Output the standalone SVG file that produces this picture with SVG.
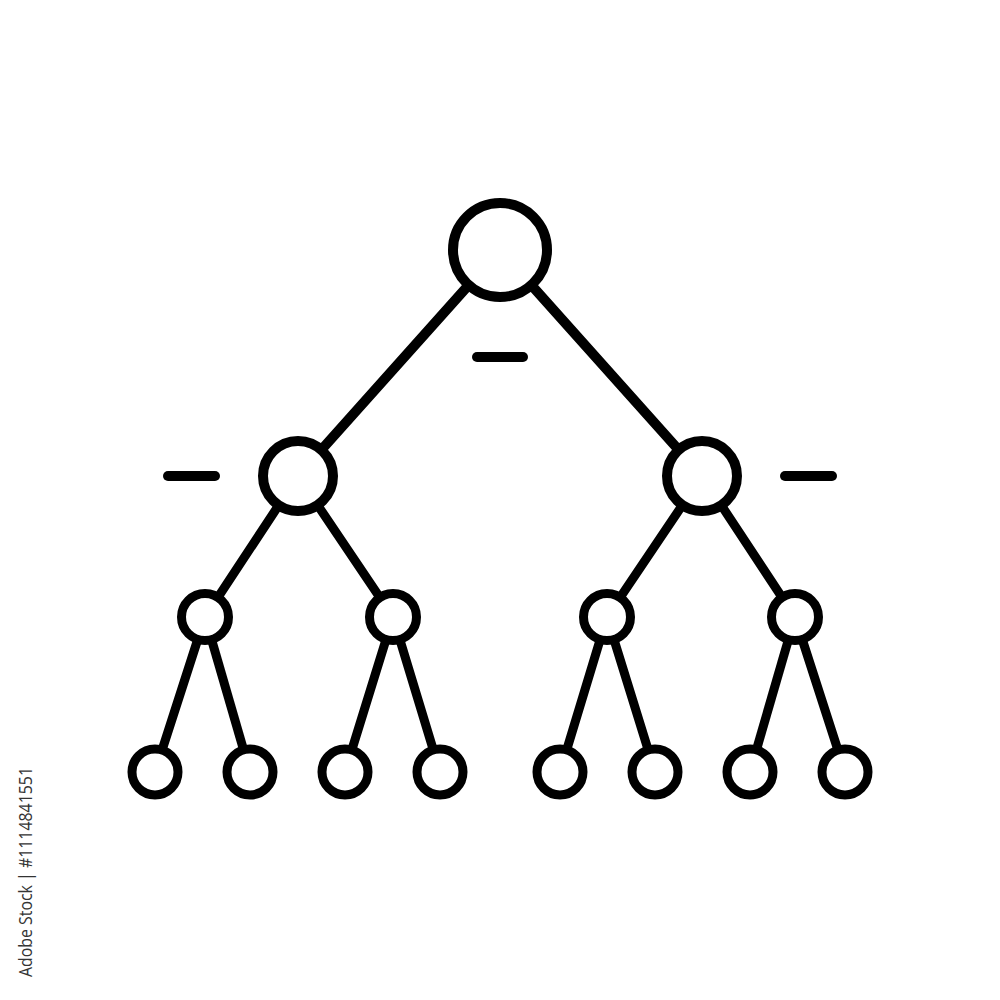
<svg xmlns="http://www.w3.org/2000/svg" width="1000" height="1000" viewBox="0 0 1000 1000">
<style>
.e{stroke:#000;stroke-width:10;stroke-linecap:round;fill:none}
.t{stroke:#000;stroke-width:9;stroke-linecap:round;fill:none}
.n{fill:#fff;stroke:#000;stroke-width:10}
.s{fill:#fff;stroke:#000;stroke-width:9}
.d{stroke:#000;stroke-width:10;stroke-linecap:round}
.w{font-family:"Open Sans","Noto Sans",sans-serif;font-size:19px;fill:#333}
</style>
<rect width="1000" height="1000" fill="#fff"/>
<g id="connectors">
<line class="e" x1="500" y1="250" x2="298" y2="476"/>
<line class="e" x1="500" y1="250" x2="702" y2="476"/>
<line class="t" x1="298" y1="476" x2="205" y2="617"/>
<line class="t" x1="298" y1="476" x2="393" y2="617"/>
<line class="t" x1="702" y1="476" x2="607" y2="617"/>
<line class="t" x1="702" y1="476" x2="795" y2="617"/>
<line class="t" x1="205" y1="617" x2="155" y2="772"/>
<line class="t" x1="205" y1="617" x2="250" y2="772"/>
<line class="t" x1="393" y1="617" x2="345" y2="772"/>
<line class="t" x1="393" y1="617" x2="440" y2="772"/>
<line class="t" x1="607" y1="617" x2="560" y2="772"/>
<line class="t" x1="607" y1="617" x2="655" y2="772"/>
<line class="t" x1="795" y1="617" x2="750" y2="772"/>
<line class="t" x1="795" y1="617" x2="845" y2="772"/>
</g>
<g id="root"><circle class="n" cx="500" cy="250" r="47"/></g>
<g id="l2a"><circle class="n" cx="298" cy="476" r="35"/></g>
<g id="l2b"><circle class="n" cx="702" cy="476" r="35"/></g>
<g id="l3a"><circle class="s" cx="205" cy="617" r="23.5"/></g>
<g id="l3b"><circle class="s" cx="393" cy="617" r="23.5"/></g>
<g id="l3c"><circle class="s" cx="607" cy="617" r="23.5"/></g>
<g id="l3d"><circle class="s" cx="795" cy="617" r="23.5"/></g>
<g id="leaf1"><circle class="s" cx="155" cy="772" r="23"/></g>
<g id="leaf2"><circle class="s" cx="250" cy="772" r="23"/></g>
<g id="leaf3"><circle class="s" cx="345" cy="772" r="23"/></g>
<g id="leaf4"><circle class="s" cx="440" cy="772" r="23"/></g>
<g id="leaf5"><circle class="s" cx="560" cy="772" r="23"/></g>
<g id="leaf6"><circle class="s" cx="655" cy="772" r="23"/></g>
<g id="leaf7"><circle class="s" cx="750" cy="772" r="23"/></g>
<g id="leaf8"><circle class="s" cx="845" cy="772" r="23"/></g>
<g id="dashes">
<line class="d" x1="477" y1="357" x2="523" y2="357"/>
<line class="d" x1="168" y1="476" x2="215" y2="476"/>
<line class="d" x1="785" y1="476" x2="832" y2="476"/>
</g>
<text class="w" transform="translate(32,977) rotate(-90)" textLength="210" lengthAdjust="spacingAndGlyphs">Adobe Stock | #1114841551</text>
</svg>
